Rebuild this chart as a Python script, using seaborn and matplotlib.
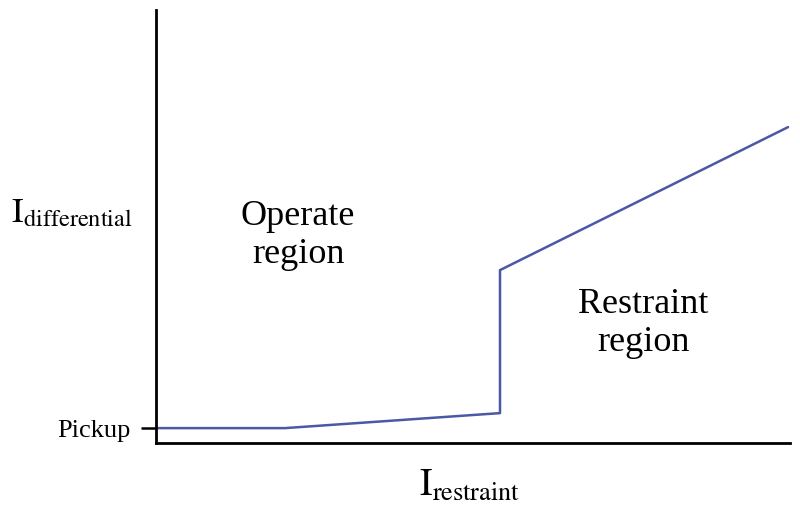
import matplotlib
matplotlib.use("Agg")
import matplotlib.pyplot as plt
import pandas as pd
import seaborn as sns

# characteristic curve (relative units)
restraint = [0, 129, 344, 344, 632]
differential = [15, 15, 30, 173, 316]
pickup_level = 15
pickup_label = "Pickup"

sns.set_style("white")
plt.rcParams['font.family'] = ['Liberation Serif', 'DejaVu Serif']
plt.rcParams['mathtext.fontset'] = 'stix'
plt.rcParams['text.color'] = 'black'
plt.rcParams['axes.labelcolor'] = 'black'
plt.rcParams['ytick.color'] = 'black'

df = pd.DataFrame({'restraint': restraint, 'differential': differential})

fig = plt.figure(figsize=(8, 5.07), dpi=100)
ax = fig.add_axes([0.195, 0.126, 0.7925, 0.854])

sns.lineplot(data=df, x='restraint', y='differential', sort=False,
             estimator=None, color='#4a58a6', linewidth=1.8, ax=ax)

ax.set_xlim(0, 634)
ax.set_ylim(0, 433)

for side in ['top', 'right']:
    ax.spines[side].set_visible(False)
for side in ['left', 'bottom']:
    ax.spines[side].set_color('black')
    ax.spines[side].set_linewidth(2)

ax.set_xticks([])
ax.set_yticks([pickup_level])
ax.set_yticklabels([pickup_label], fontsize=19)
ax.tick_params(axis='y', left=True, length=11, width=1.8, color='black', pad=7)

ax.set_ylabel(r'$\mathrm{I}_{\mathrm{differential}}$', fontsize=25, rotation=0,
              ha='center', va='center')
ax.yaxis.set_label_coords(-0.132, 0.53)
ax.set_xlabel(r'$\mathrm{I}_{\mathrm{restraint}}$', fontsize=27,
              ha='center', va='center')
ax.xaxis.set_label_coords(0.495, -0.1)

ax.text(142, 208, 'Operate\nregion', fontsize=26, ha='center', va='center')
ax.text(487, 120, 'Restraint\nregion', fontsize=26, ha='center', va='center')

fig.savefig('out.png', dpi=100)
